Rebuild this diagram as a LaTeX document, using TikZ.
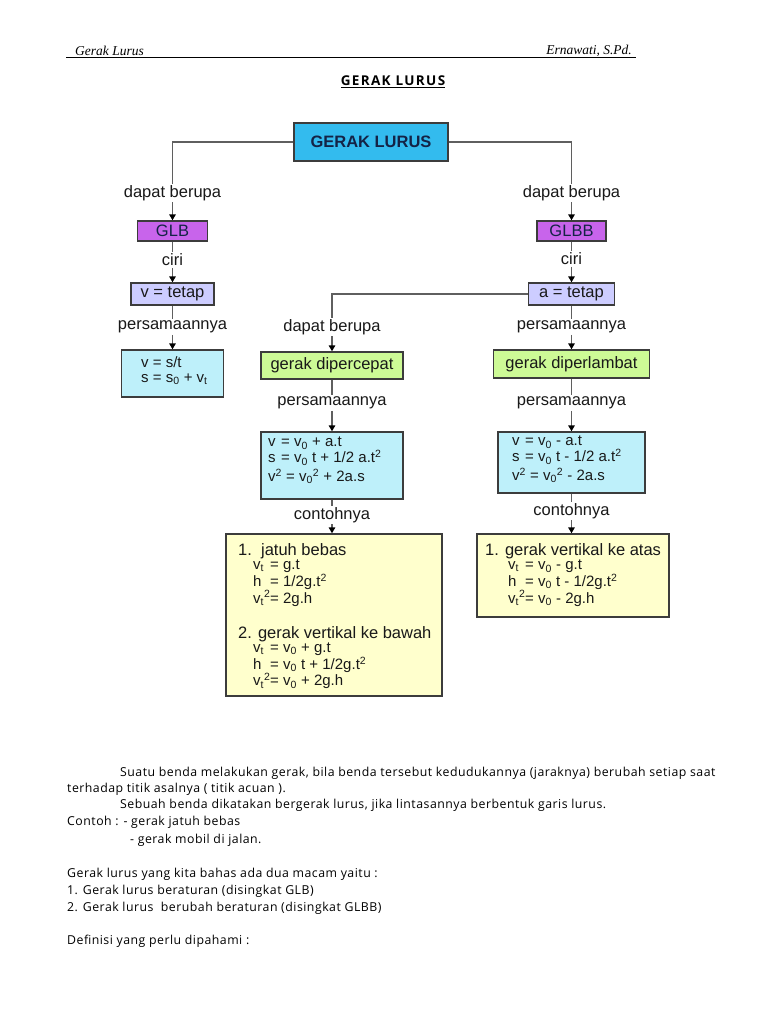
\documentclass[tikz,border=0pt]{standalone}
\usepackage{fontspec}
\setmainfont{Liberation Sans}
\newfontfamily\hdrfont{Liberation Serif}
\newfontfamily\bodyfont{Open Sans}[LetterSpace=4]
\newfontfamily\titlefont{Open Sans}[LetterSpace=10]
\usetikzlibrary{arrows.meta,calc}
\definecolor{cTop}{RGB}{51,187,238}
\definecolor{cNavy}{RGB}{20,35,70}
\definecolor{cGLB}{RGB}{200,100,235}
\definecolor{cLav}{RGB}{205,205,255}
\definecolor{cCyan}{RGB}{190,240,250}
\definecolor{cGreen}{RGB}{205,250,150}
\definecolor{cYel}{RGB}{255,255,205}
\definecolor{cLine}{RGB}{95,95,95}
\definecolor{cBorder}{RGB}{60,60,60}
\newcommand\vtsq{v\textsubscript{t}\textsuperscript{2}}
\tikzset{
  box/.style={draw=cBorder, line width=1.4pt, inner sep=0pt, font=\fontsize{16.5}{18}\selectfont, text=black!90},
  lbl/.style={inner sep=1.5pt, font=\fontsize{16.5}{18}\selectfont, text=black!90},
  eqtext/.style={inner sep=0pt, align=left, font=\fontsize{15}{15}\selectfont, text=black!90, anchor=north west},
  conn/.style={draw=cLine, line width=1.6pt},
  arr/.style={conn, -{Triangle[length=6pt,width=6.5pt,color=black]}},
  bodyline/.style={inner sep=0pt, anchor=west, font=\bodyfont\fontsize{12.3}{14}\selectfont, text=black},
  hdr/.style={inner sep=0pt, font=\hdrfont\itshape\fontsize{13.5}{15}\selectfont, text=black}
}
\begin{document}
\begin{tikzpicture}[x=1pt,y=-1pt]
\useasboundingbox (0,0) rectangle (768,1024);
\fill[white] (0,0) rectangle (768,1024);

% header
\node[hdr, anchor=west] (hl) at (75,51) {Gerak Lurus};
\node[hdr, anchor=east] (hr) at (632,51) {Ernawati, S.Pd.};
\draw[line width=1pt] (66,58) -- (636,58);
\node[inner sep=0pt, font=\titlefont\bfseries\fontsize{13.5}{15}\selectfont] (title) at (393,82) {\underline{GERAK LURUS}};

% top
\node[box, fill=cTop, minimum width=154pt, minimum height=38pt, font=\fontsize{16.5}{18}\selectfont\bfseries, text=cNavy] (top) at (371,142) {GERAK LURUS};

% left column
\node[lbl] (dbL) at (172.5,193) {dapat berupa};
\node[box, fill=cGLB, minimum width=70pt, minimum height=20pt, text=cNavy] (glb) at (172.5,231) {GLB};
\node[lbl] (ciriL) at (172.5,260) {ciri};
\node[box, fill=cLav, minimum width=83pt, minimum height=22pt] (vtetap) at (172.5,294) {v = tetap};
\node[lbl] (psL) at (172.5,327) {persamaannya};
\node[box, fill=cCyan, minimum width=102pt, minimum height=47pt] (eqL) at (172.5,373.5) {};
\node[eqtext] (eqLt) at (141,356) {v = s/t\\ s = s\textsubscript{0} + v\textsubscript{t}};

% right column
\node[lbl] (dbR) at (571.5,193) {dapat berupa};
\node[box, fill=cGLB, minimum width=69pt, minimum height=20pt, text=cNavy] (glbb) at (571.5,231) {GLBB};
\node[lbl] (ciriR) at (571.5,259) {ciri};
\node[box, fill=cLav, minimum width=86pt, minimum height=22pt] (atetap) at (571.5,294) {a = tetap};
\node[lbl] (psR1) at (571.5,327) {persamaannya};
\node[box, fill=cGreen, minimum width=156pt, minimum height=28pt] (lambat) at (571.5,364) {gerak diperlambat};
\node[lbl] (psR2) at (571.5,403) {persamaannya};
\node[box, fill=cCyan, minimum width=147pt, minimum height=61pt] (eqR) at (571.5,462.5) {};
\node[eqtext] (eqRt) at (512,436) {\makebox[13pt][l]{v}= v\textsubscript{0} - a.t\\ \makebox[13pt][l]{s}= v\textsubscript{0} t - 1/2 a.t\textsuperscript{2}\\[2.5pt] v\textsuperscript{2} = v\textsubscript{0}\textsuperscript{2} - 2a.s};
\node[lbl] (ctR) at (571.5,511) {contohnya};
\node[box, fill=cYel, minimum width=192pt, minimum height=83pt] (yelR) at (573,575.5) {};
\node[eqtext, font=\fontsize{15}{14.5}\selectfont] (yelRt) at (485,543) {{\fontsize{16.5}{14.5}\selectfont 1. gerak vertikal ke atas}\\
\hspace*{23pt}\makebox[17pt][l]{v\textsubscript{t}}= v\textsubscript{0} - g.t\\
\hspace*{23pt}\makebox[17pt][l]{h}= v\textsubscript{0} t - 1/2g.t\textsuperscript{2}\\
\hspace*{23pt}\makebox[17pt][l]{\vtsq}= v\textsubscript{0} - 2g.h};

% middle column
\node[lbl] (dbM) at (332,327) {dapat berupa};
\node[box, fill=cGreen, minimum width=142pt, minimum height=27pt] (cepat) at (332,365.5) {gerak dipercepat};
\node[lbl] (psM) at (332,403) {persamaannya};
\node[box, fill=cCyan, minimum width=142pt, minimum height=67pt] (eqM) at (332,465.5) {};
\node[eqtext] (eqMt) at (268,437) {\makebox[13pt][l]{v}= v\textsubscript{0} + a.t\\ \makebox[13pt][l]{s}= v\textsubscript{0} t + 1/2 a.t\textsuperscript{2}\\[2.5pt] v\textsuperscript{2} = v\textsubscript{0}\textsuperscript{2} + 2a.s};
\node[lbl] (ctM) at (332,515) {contohnya};
\node[box, fill=cYel, minimum width=216pt, minimum height=162pt] (yelM) at (334,615) {};
\node[eqtext, font=\fontsize{15}{14.5}\selectfont] (yelMt) at (238,543) {{\fontsize{16.5}{14.5}\selectfont 1.\ \ jatuh bebas}\\
\hspace*{15pt}\makebox[17pt][l]{v\textsubscript{t}}= g.t\\
\hspace*{15pt}\makebox[17pt][l]{h}= 1/2g.t\textsuperscript{2}\\
\hspace*{15pt}\makebox[17pt][l]{\vtsq}= 2g.h\\[19pt]
{\fontsize{16.5}{14.5}\selectfont 2. gerak vertikal ke bawah}\\
\hspace*{15pt}\makebox[17pt][l]{v\textsubscript{t}}= v\textsubscript{0} + g.t\\
\hspace*{15pt}\makebox[17pt][l]{h}= v\textsubscript{0} t + 1/2g.t\textsuperscript{2}\\
\hspace*{15pt}\makebox[17pt][l]{\vtsq}= v\textsubscript{0} + 2g.h};

% connectors
\draw[conn] (top.west) -| (dbL.north);
\draw[conn] (top.east) -| (dbR.north);
\draw[arr] (dbL.south) -- (dbL.south |- glb.north);
\draw[conn] (glb) -- (ciriL);
\draw[arr] (ciriL.south) -- (ciriL.south |- vtetap.north);
\draw[conn] (vtetap) -- (psL);
\draw[arr] (psL.south) -- (psL.south |- eqL.north);

\draw[arr] (dbR.south) -- (dbR.south |- glbb.north);
\draw[conn] (glbb) -- (ciriR);
\draw[arr] (ciriR.south) -- (ciriR.south |- atetap.north);
\draw[conn] (atetap) -- (psR1);
\draw[arr] (psR1.south) -- (psR1.south |- lambat.north);
\draw[conn] (lambat) -- (psR2);
\draw[arr] (psR2.south) -- (psR2.south |- eqR.north);
\draw[conn] (eqR) -- (ctR);
\draw[arr] (ctR.south) -- (ctR.south |- yelR.north);

\draw[conn] (atetap.west) -| (dbM.north);
\draw[arr] (dbM.south) -- (dbM.south |- cepat.north);
\draw[conn] (cepat) -- (psM);
\draw[arr] (psM.south) -- (psM.south |- eqM.north);
\draw[conn] (eqM) -- (ctM);
\draw[arr] (ctM.south) -- (ctM.south |- yelM.north);

% body text
\node[bodyline] (b1) at (120,773) {Suatu benda melakukan gerak, bila benda tersebut kedudukannya (jaraknya) berubah setiap saat};
\node[bodyline] (b2) at (67,789) {terhadap titik asalnya ( titik acuan ).};
\node[bodyline] (b3) at (120,805) {Sebuah benda dikatakan bergerak lurus, jika lintasannya berbentuk garis lurus.};
\node[bodyline] (b4) at (67,822) {Contoh : - gerak jatuh bebas};
\node[bodyline] (b5) at (130,840) {- gerak mobil di jalan.};
\node[bodyline] (b6) at (67,874) {Gerak lurus yang kita bahas ada dua macam yaitu :};
\node[bodyline] (b7) at (67,891) {1. Gerak lurus beraturan (disingkat GLB)};
\node[bodyline] (b8) at (67,908) {2. Gerak lurus\ \ berubah beraturan (disingkat GLBB)};
\node[bodyline] (b9) at (67,941) {Definisi yang perlu dipahami :};
\end{tikzpicture}
\end{document}
